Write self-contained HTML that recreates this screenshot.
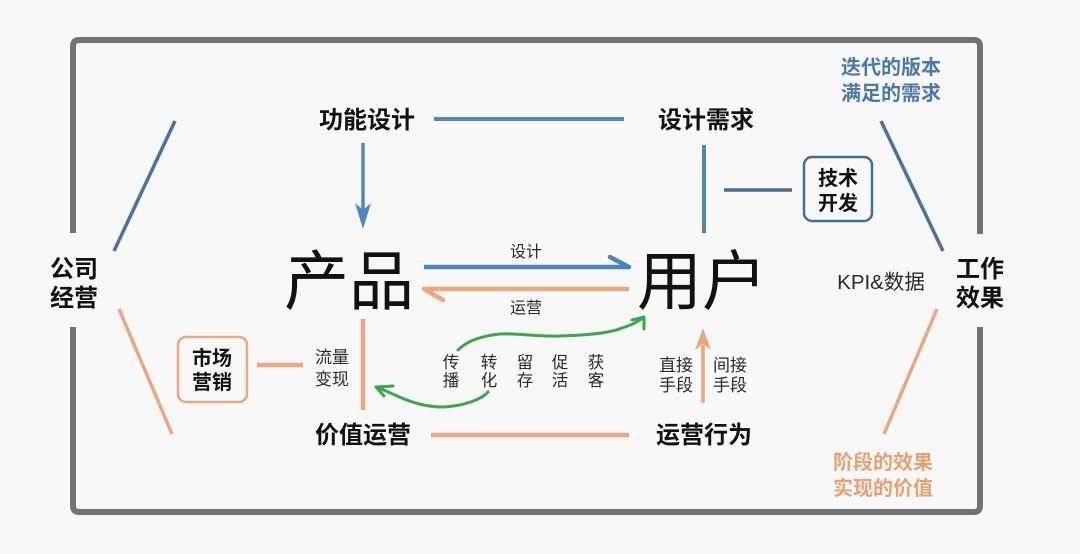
<!DOCTYPE html>
<html>
<head>
<meta charset="utf-8">
<style>
  html,body{margin:0;padding:0;background:#f8f8f8;}
  svg{display:block;}
  text{font-family:"Liberation Sans","Noto Sans CJK SC",sans-serif;}
  .b{font-weight:700;fill:#111;}
</style>
</head>
<body>
<svg width="1080" height="554" viewBox="0 0 1080 554" xmlns="http://www.w3.org/2000/svg">
  <rect x="0" y="0" width="1080" height="554" fill="#f8f8f8"/>

  <!-- frame -->
  <path d="M73,233 L73,46 Q73,40 79,40 L974,40 Q980,40 980,46 L980,234" fill="none" stroke="#737373" stroke-width="6"/>
  <path d="M73,327 L73,506 Q73,512 79,512 L974,512 Q980,512 980,506 L980,327" fill="none" stroke="#737373" stroke-width="6"/>

  <!-- blue connectors -->
  <line x1="434" y1="119" x2="624" y2="119" stroke="#4f88bd" stroke-width="4"/>
  <line x1="363" y1="143" x2="363" y2="210" stroke="#4f88bd" stroke-width="3.5"/>
  <path d="M355,203 L363,229 L371,203 L363,210 Z" fill="#4f88bd"/>
  <line x1="704" y1="145" x2="704" y2="233" stroke="#4f88bd" stroke-width="4"/>
  <line x1="724" y1="190" x2="792" y2="190" stroke="#446e99" stroke-width="3.5"/>
  <rect x="804" y="157" width="68" height="64" rx="8" fill="none" stroke="#446e99" stroke-width="2.5"/>
  <line x1="175" y1="121" x2="114" y2="251" stroke="#4a72a0" stroke-width="3.5"/>
  <line x1="881" y1="121" x2="943" y2="251" stroke="#4a72a0" stroke-width="3.5"/>

  <!-- design arrow -->
  <line x1="424" y1="267" x2="629" y2="267" stroke="#4a86c0" stroke-width="4.5"/>
  <line x1="629" y1="267" x2="610" y2="257" stroke="#4a86c0" stroke-width="4.5" stroke-linecap="round"/>
  <!-- operate arrow -->
  <line x1="424" y1="289" x2="629" y2="289" stroke="#eea77c" stroke-width="4.5"/>
  <line x1="424" y1="289" x2="443" y2="300" stroke="#eea77c" stroke-width="4.5" stroke-linecap="round"/>

  <!-- orange connectors -->
  <line x1="363" y1="319" x2="363" y2="410" stroke="#eea77c" stroke-width="4.5"/>
  <line x1="257" y1="365" x2="303" y2="365" stroke="#eea77c" stroke-width="4.5"/>
  <rect x="178" y="337" width="69" height="65" rx="8" fill="none" stroke="#eaa880" stroke-width="2.5"/>
  <line x1="431" y1="435" x2="629" y2="435" stroke="#eea77c" stroke-width="4.5"/>
  <line x1="703" y1="345" x2="703" y2="403" stroke="#eea77c" stroke-width="3.5"/>
  <path d="M695,350 L703,328 L711,350 L703,344 Z" fill="#eea77c"/>
  <line x1="119" y1="309" x2="172" y2="434" stroke="#eea77c" stroke-width="3.5"/>
  <line x1="937" y1="309" x2="884" y2="434" stroke="#eea77c" stroke-width="3.5"/>

  <!-- green curves -->
  <path d="M458,350 C466,342 480,336 500,334 C520,333 535,337 560,336 C590,335 610,333 622,328 C632,325 638,322 644,317" fill="none" stroke="#3aa84a" stroke-width="3" stroke-linecap="round"/>
  <path d="M632,320 L644,317 L644,329" fill="none" stroke="#3aa84a" stroke-width="3" stroke-linecap="round" stroke-linejoin="round"/>
  <path d="M488,392 C482,399 465,406 443,407 C425,407 410,402 395,395 C388,392 382,389 376,387" fill="none" stroke="#3aa84a" stroke-width="3" stroke-linecap="round"/>
  <path d="M393,386 L376,387 L384,396" fill="none" stroke="#3aa84a" stroke-width="3" stroke-linecap="round" stroke-linejoin="round"/>

  <!-- bold labels -->
  <text class="b" x="367" y="128" font-size="24" text-anchor="middle">功能设计</text>
  <text class="b" x="706" y="128" font-size="24" text-anchor="middle">设计需求</text>
  <text class="b" x="363" y="443" font-size="24" text-anchor="middle">价值运营</text>
  <text class="b" x="704" y="443" font-size="24" text-anchor="middle">运营行为</text>
  <text class="b" x="74" y="277" font-size="24" text-anchor="middle">公司</text>
  <text class="b" x="74" y="306" font-size="24" text-anchor="middle">经营</text>
  <text class="b" x="980" y="277" font-size="24" text-anchor="middle">工作</text>
  <text class="b" x="980" y="306" font-size="24" text-anchor="middle">效果</text>
  <text class="b" x="838" y="185" font-size="20" text-anchor="middle">技术</text>
  <text class="b" x="838" y="210" font-size="20" text-anchor="middle">开发</text>
  <text class="b" x="212" y="365" font-size="20" text-anchor="middle">市场</text>
  <text class="b" x="212" y="389" font-size="20" text-anchor="middle">营销</text>

  <text x="891" y="74" font-size="20" font-weight="700" fill="#4b78a9" text-anchor="middle">迭代的版本</text>
  <text x="891" y="100" font-size="20" font-weight="700" fill="#4b78a9" text-anchor="middle">满足的需求</text>
  <text x="883" y="469" font-size="20" font-weight="700" fill="#eaa071" text-anchor="middle">阶段的效果</text>
  <text x="883" y="495" font-size="20" font-weight="700" fill="#eaa071" text-anchor="middle">实现的价值</text>

  <!-- big words -->
  <text x="349" y="304" font-size="65" fill="#111" text-anchor="middle">产品</text>
  <text x="702" y="304" font-size="65" fill="#111" text-anchor="middle">用户</text>

  <!-- small labels -->
  <text x="526" y="257" font-size="16" fill="#2a2a2a" text-anchor="middle">设计</text>
  <text x="526" y="313" font-size="16" fill="#2a2a2a" text-anchor="middle">运营</text>
  <text x="881" y="289" font-size="20.5" fill="#2a2a2a" text-anchor="middle">KPI&amp;数据</text>
  <text x="332" y="363" font-size="17" fill="#2a2a2a" text-anchor="middle">流量</text>
  <text x="332" y="385" font-size="17" fill="#2a2a2a" text-anchor="middle">变现</text>
  <text x="676" y="371" font-size="17" fill="#2a2a2a" text-anchor="middle">直接</text>
  <text x="676" y="391" font-size="17" fill="#2a2a2a" text-anchor="middle">手段</text>
  <text x="730" y="371" font-size="17" fill="#2a2a2a" text-anchor="middle">间接</text>
  <text x="730" y="391" font-size="17" fill="#2a2a2a" text-anchor="middle">手段</text>

  <g font-size="16.5" fill="#2a2a2a" text-anchor="middle">
    <text x="451" y="368">传</text><text x="451" y="386">播</text>
    <text x="489" y="368">转</text><text x="489" y="386">化</text>
    <text x="525" y="368">留</text><text x="525" y="386">存</text>
    <text x="560" y="368">促</text><text x="560" y="386">活</text>
    <text x="596" y="368">获</text><text x="596" y="386">客</text>
  </g>
</svg>
</body>
</html>
